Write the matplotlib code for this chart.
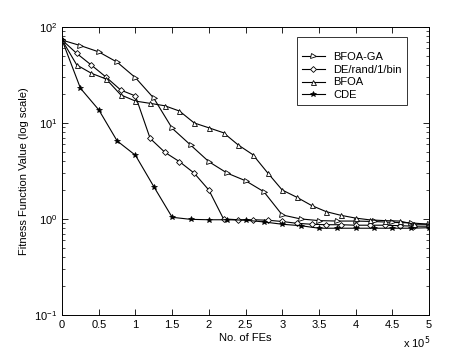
import matplotlib
matplotlib.use('Agg')
import matplotlib.pyplot as plt
import numpy as np
from matplotlib.ticker import FuncFormatter, LogLocator, MultipleLocator

plt.rcParams['font.family'] = ['Liberation Sans', 'DejaVu Sans']
plt.rcParams['font.size'] = 8

# function evaluations (two sampling grids used in the plot)
fes_a = np.arange(0, 5.0001e5, 0.25e5)   # BFOA-GA, CDE
fes_b = np.arange(0, 5.0001e5, 0.2e5)    # DE/rand/1/bin, BFOA

bfoa_ga = [73, 64, 55, 43, 29.6, 18.1, 8.8, 5.9, 3.95, 3.0, 2.5, 1.92, 1.10,
           1.0, 0.96, 0.95, 0.95, 0.94, 0.92, 0.91, 0.88]
cde = [73, 23, 13.7, 6.5, 4.6, 2.17, 1.04, 0.99, 0.98, 0.98, 0.97, 0.93, 0.88,
       0.85, 0.80, 0.80, 0.80, 0.80, 0.80, 0.80, 0.81]
de_rand = [73, 53, 40, 30, 22, 19.1, 6.9, 4.95, 3.95, 3.0, 2.0, 1.0, 0.98,
           0.98, 0.97, 0.94, 0.90, 0.88, 0.87, 0.87, 0.86, 0.86, 0.86, 0.85,
           0.84, 0.84]
bfoa = [73, 40.2, 32.9, 28.7, 19.6, 16.9, 16.0, 15.1, 13.3, 10.0, 8.9, 7.9,
        5.9, 4.67, 3.03, 2.0, 1.68, 1.38, 1.19, 1.09, 1.02, 0.976, 0.96, 0.95,
        0.88, 0.88]

fig = plt.figure(figsize=(4.74, 3.55), dpi=100)
ax = fig.add_axes([0.131, 0.113, 0.774, 0.811])

kw = dict(color='black', lw=0.8, markerfacecolor='white', markeredgewidth=0.6)
ax.plot(fes_a, bfoa_ga, marker='>', markersize=3.6, label='BFOA-GA', **kw)
ax.plot(fes_b, de_rand, marker='D', markersize=3.0, label='DE/rand/1/bin', **kw)
ax.plot(fes_b, bfoa, marker='^', markersize=3.6, label='BFOA', **kw)
ax.plot(fes_a, cde, color='black', lw=0.8, marker='*', markersize=3.8,
        markeredgewidth=0.5, label='CDE')

ax.set_yscale('log')
ax.set_ylim(0.1, 100)
ax.set_xlim(0, 5e5)
ax.xaxis.set_major_locator(MultipleLocator(0.5e5))
ax.xaxis.set_major_formatter(FuncFormatter(lambda v, p: '%g' % (v / 1e5)))
ax.yaxis.set_minor_locator(LogLocator(base=10, subs=np.arange(2, 10)))

ax.tick_params(which='both', direction='in', top=True, right=True)
ax.tick_params(which='major', length=4, width=0.6, labelsize=8)
ax.tick_params(which='minor', length=2, width=0.5)
for s in ax.spines.values():
    s.set_linewidth(0.7)

ax.set_xlabel('No. of FEs', fontsize=8, labelpad=2)
ax.set_ylabel('Fitness Function Value (log scale)', fontsize=8)
ax.text(0.967, -0.098, r'x 10$^5$', transform=ax.transAxes, fontsize=8,
        ha='center', va='center')

leg = ax.legend(loc='upper right', bbox_to_anchor=(0.94, 0.965), title=' ',
                fontsize=8, frameon=True, fancybox=False, edgecolor='black',
                handlelength=2.0, borderpad=0.45, labelspacing=0.25,
                borderaxespad=0, title_fontsize=6)
leg.get_frame().set_linewidth(0.7)

fig.savefig('out.png', dpi=100)
